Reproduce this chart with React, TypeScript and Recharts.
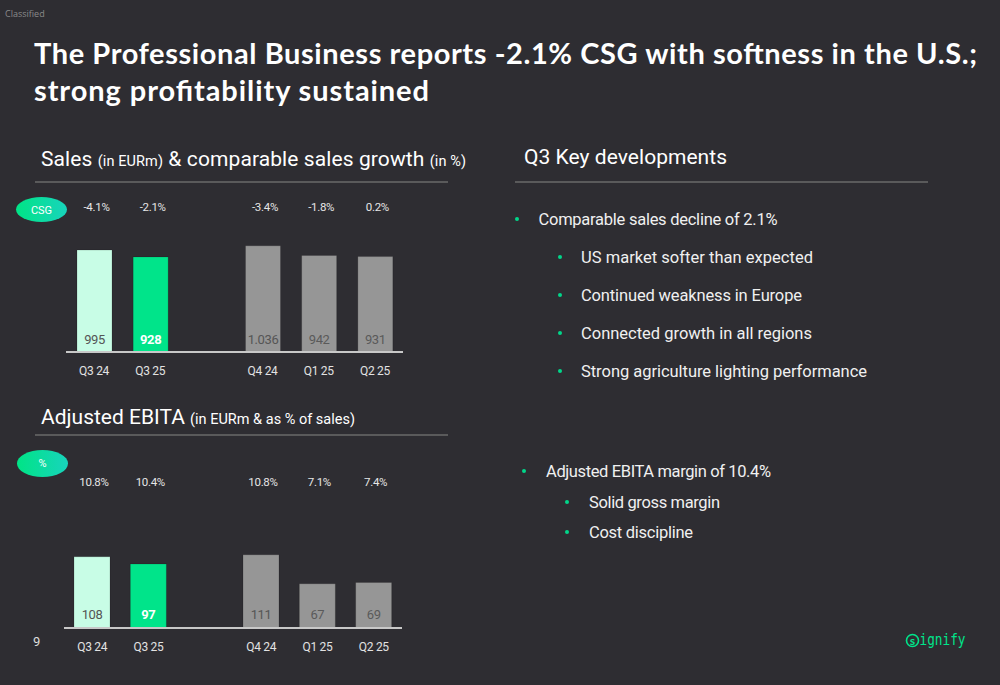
import React from 'react';
import { BarChart, Bar, XAxis, YAxis, Cell, LabelList } from 'recharts';

// ---------- data ----------
const categories = ['Q3 24', 'Q3 25', ' ', 'Q4 24', 'Q1 25', 'Q2 25'];
const salesValues = [995, 928, null, 1036, 942, 931];
const csgValues = [-4.1, -2.1, null, -3.4, -1.8, 0.2];
const ebitaValues = [108, 97, null, 111, 67, 69];
const ebitaMargins = [10.8, 10.4, null, 10.8, 7.1, 7.4];

const titleLines = [
  'The Professional Business reports -2.1% CSG with softness in the U.S.;',
  'strong profitability sustained',
];
const csgBullets = [
  'US market softer than expected',
  'Continued weakness in Europe',
  'Connected growth in all regions',
  'Strong agriculture lighting performance',
];
const ebitaBullets = ['Solid gross margin', 'Cost discipline'];

// ---------- styles ----------
const BG = '#2e2d32';
const MINT = '#c8fde6';
const GREEN = '#00e48a';
const GREY = '#969696';
const barFills = [MINT, GREEN, GREY, GREY, GREY, GREY];
const valueColors = ['#555555', '#ffffff', '#555555', '#5a5a5a', '#5a5a5a', '#5a5a5a'];
const valueWeights = [400, 700, 400, 400, 400, 400];
const LABEL_FONT = "Roboto, sans-serif";
const TEXT_FONT = "Roboto, 'Noto Sans', sans-serif";
const TITLE_FONT = "Lato, 'Noto Sans', sans-serif";

const salesData = categories.map((c, i) => ({ name: c, value: salesValues[i], pct: csgValues[i] }));
const ebitaData = categories.map((c, i) => ({ name: c, value: ebitaValues[i], pct: ebitaMargins[i] }));

const fmtValue = (v: number) => v.toLocaleString('de-DE');
const fmtPct = (v: number) => `${v.toFixed(1)}%`;

const Tick = (props: any) => {
  const { x, y, payload } = props;
  return (
    <text x={x} y={y + 19} textAnchor="middle" dominantBaseline="central" fill="#e2e2e2" fontSize={12} letterSpacing={-0.3} fontFamily={LABEL_FONT}>
      {payload.value}
    </text>
  );
};

const makeValueLabel = (offset: number) => (props: any) => {
  const { x, y, width, height, value, index } = props;
  if (value == null || x == null) return null;
  return (
    <text
      x={x + width / 2}
      y={y + height - offset}
      textAnchor="middle"
      dominantBaseline="central"
      fill={valueColors[index] ?? '#555'}
      fontWeight={valueWeights[index] ?? 400}
      fontSize={13}
      letterSpacing={-0.4}
      fontFamily={LABEL_FONT}
    >
      {fmtValue(value)}
    </text>
  );
};

const makePctLabel = (rowY: number) => (props: any) => {
  const { x, width, value } = props;
  if (value == null || x == null) return null;
  return (
    <text x={x + width / 2 + 2} y={rowY} textAnchor="middle" dominantBaseline="central" fill="#e6e6e6" fontSize={11.5} letterSpacing={-0.3} fontFamily={LABEL_FONT}>
      {fmtPct(value)}
    </text>
  );
};

function SalesChart() {
  return (
    <div style={{ position: 'absolute', left: 0, top: 190 }}>
      <BarChart width={420} height={200} data={salesData} margin={{ top: 39, right: 17, left: 66, bottom: 0 }}>
        <XAxis
          dataKey="name"
          height={38}
          tickLine={false}
          tickSize={0}
          tickMargin={0}
          axisLine={{ stroke: '#c8c8c8', strokeWidth: 2 }}
          tick={<Tick />}
          interval={0}
        />
        <YAxis hide domain={[0, 1200]} />
        <Bar dataKey="value" barSize={35} isAnimationActive={false} stroke="rgba(0,0,0,0.15)">
          {salesData.map((d, i) => (
            <Cell key={i} fill={barFills[i]} />
          ))}
          <LabelList dataKey="value" content={makeValueLabel(13)} />
          <LabelList dataKey="pct" content={makePctLabel(17)} />
        </Bar>
      </BarChart>
    </div>
  );
}

function EbitaChart() {
  return (
    <div style={{ position: 'absolute', left: 0, top: 440 }}>
      <BarChart width={420} height={230} data={ebitaData} margin={{ top: 56, right: 18, left: 64, bottom: 0 }}>
        <XAxis
          dataKey="name"
          height={42}
          tickLine={false}
          tickSize={0}
          tickMargin={0}
          axisLine={{ stroke: '#c8c8c8', strokeWidth: 2 }}
          tick={<Tick />}
          interval={0}
        />
        <YAxis hide domain={[0, 200]} />
        <Bar dataKey="value" barSize={36} isAnimationActive={false} stroke="rgba(0,0,0,0.15)">
          {ebitaData.map((d, i) => (
            <Cell key={i} fill={barFills[i]} />
          ))}
          <LabelList dataKey="value" content={makeValueLabel(14)} />
          <LabelList dataKey="pct" content={makePctLabel(42)} />
        </Bar>
      </BarChart>
    </div>
  );
}

function Overlay() {
  const bulletGreen = '#00d68a';
  return (
    <svg width={1000} height={685} style={{ position: 'absolute', left: 0, top: 0 }}>
      <defs>
        <linearGradient id="pill" x1="0" y1="0" x2="1" y2="0">
          <stop offset="0%" stopColor="#00e486" />
          <stop offset="100%" stopColor="#18d4bc" />
        </linearGradient>
      </defs>
      <text x={5} y={17} fontSize={9} fill="#8a8a8a" fontFamily="'Open Sans', sans-serif">Classified</text>

      {/* main title */}
      <text x={34} y={64} fontSize={29} fontWeight={700} fill="#ffffff" fontFamily={TITLE_FONT} textLength={943} lengthAdjust="spacing">
        {titleLines[0]}
      </text>
      <text x={34} y={101} fontSize={29} fontWeight={700} fill="#ffffff" fontFamily={TITLE_FONT} textLength={395} lengthAdjust="spacing">
        {titleLines[1]}
      </text>

      {/* sales section title */}
      <text x={41} y={166} fill="#ffffff" fontFamily={TEXT_FONT} textLength={425} lengthAdjust="spacing">
        <tspan fontSize={21}>Sales </tspan>
        <tspan fontSize={14.5}>(in EURm)</tspan>
        <tspan fontSize={21}> &amp; comparable sales growth </tspan>
        <tspan fontSize={14.5}>(in %)</tspan>
      </text>
      <line x1={35} x2={448} y1={182} y2={182} stroke="#6a6a6a" strokeWidth={1.5} />

      {/* ebita section title */}
      <text x={41} y={424} fill="#ffffff" fontFamily={TEXT_FONT} textLength={314} lengthAdjust="spacing">
        <tspan fontSize={21}>Adjusted EBITA </tspan>
        <tspan fontSize={14.5}>(in EURm &amp; as % of sales)</tspan>
      </text>
      <line x1={35} x2={448} y1={435} y2={435} stroke="#6a6a6a" strokeWidth={1.5} />

      {/* pills */}
      <ellipse cx={41.5} cy={209.5} rx={25.5} ry={12.5} fill="url(#pill)" />
      <text x={41.5} y={210} textAnchor="middle" dominantBaseline="central" fontSize={11} fill="#ffffff" fontFamily={LABEL_FONT}>CSG</text>
      <ellipse cx={42.5} cy={463.5} rx={25.5} ry={13.5} fill="url(#pill)" />
      <text x={42.5} y={463} textAnchor="middle" dominantBaseline="central" fontSize={11} fill="#ffffff" fontFamily={LABEL_FONT}>%</text>

      {/* right side */}
      <text x={524} y={164} fontSize={21} fill="#ffffff" fontFamily={TEXT_FONT} textLength={203} lengthAdjust="spacing">Q3 Key developments</text>
      <line x1={515} x2={928} y1={182} y2={182} stroke="#6a6a6a" strokeWidth={1.5} />

      <circle cx={517} cy={219} r={2} fill={bulletGreen} />
      <text x={538.5} y={225} fontSize={16.5} fill="#f0f0f0" fontFamily={TEXT_FONT} textLength={239} lengthAdjust="spacing">Comparable sales decline of 2.1%</text>
      {csgBullets.map((t, i) => {
        const widths = [232, 221, 231, 286];
        return (
          <g key={t}>
            <circle cx={560} cy={257 + i * 38} r={2} fill={bulletGreen} />
            <text x={581} y={263 + i * 38} fontSize={16.5} fill="#f0f0f0" fontFamily={TEXT_FONT} textLength={widths[i]} lengthAdjust="spacing">{t}</text>
          </g>
        );
      })}

      <circle cx={524} cy={471} r={2} fill={bulletGreen} />
      <text x={546} y={477} fontSize={16.5} fill="#f0f0f0" fontFamily={TEXT_FONT} textLength={225} lengthAdjust="spacing">Adjusted EBITA margin of 10.4%</text>
      {ebitaBullets.map((t, i) => {
        const widths = [131, 104];
        return (
          <g key={t}>
            <circle cx={567} cy={502 + i * 30} r={2} fill={bulletGreen} />
            <text x={589} y={508 + i * 30} fontSize={16.5} fill="#f0f0f0" fontFamily={TEXT_FONT} textLength={widths[i]} lengthAdjust="spacing">{t}</text>
          </g>
        );
      })}

      {/* page number */}
      <text x={33} y={641} dominantBaseline="central" fontSize={13} fill="#dddddd" fontFamily={LABEL_FONT}>9</text>

      {/* logo */}
      <circle cx={912.5} cy={640.5} r={6} fill="none" stroke={GREEN} strokeWidth={1.6} />
      <text x={912.5} y={641} textAnchor="middle" dominantBaseline="central" fontSize={10} fontWeight={700} fill={GREEN} fontFamily="'DejaVu Sans Mono', monospace">s</text>
      <text x={919.5} y={645} fontSize={16} fontWeight={400} fill={GREEN} fontFamily="'DejaVu Sans Mono', monospace" textLength={46} lengthAdjust="spacingAndGlyphs">ignify</text>
    </svg>
  );
}

export default function App() {
  return (
    <div style={{ position: 'absolute', left: 0, top: 0, width: 1000, height: 685, background: BG, overflow: 'hidden' }}>
      <Overlay />
      <SalesChart />
      <EbitaChart />
    </div>
  );
}
